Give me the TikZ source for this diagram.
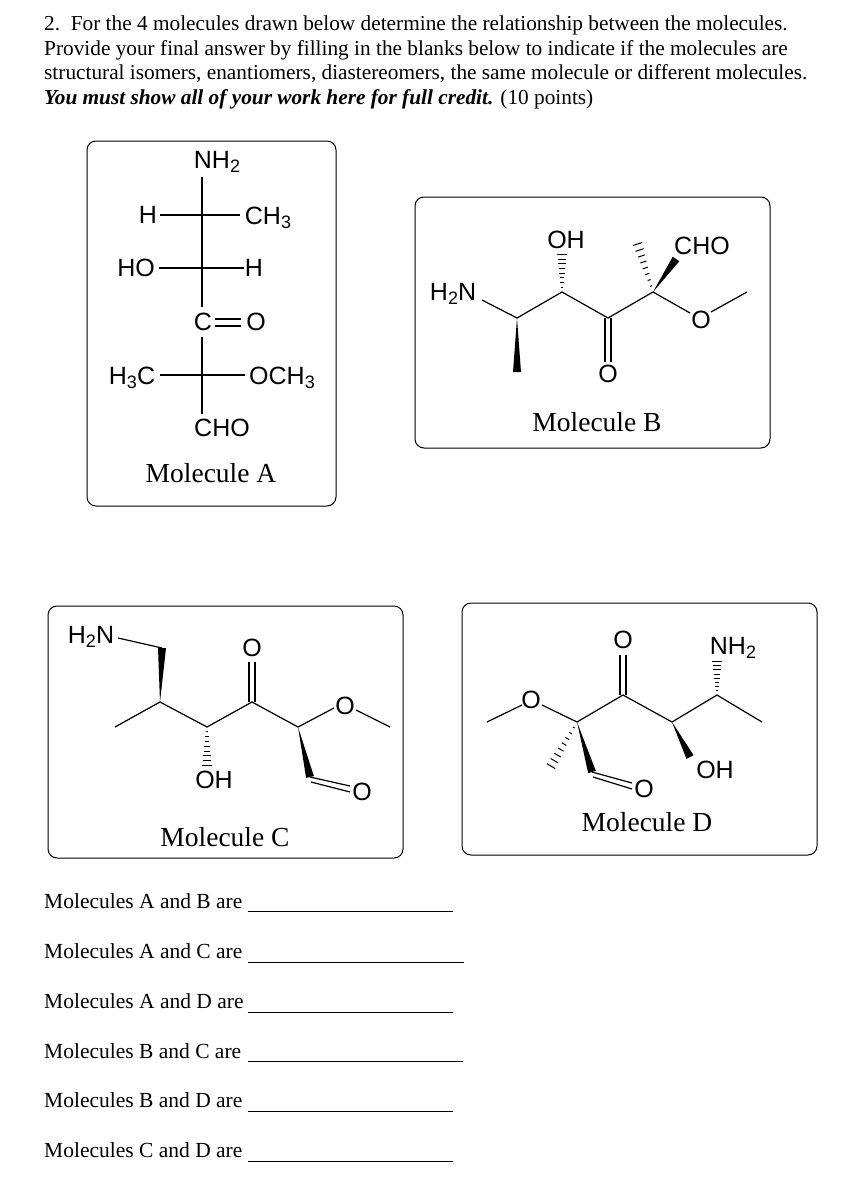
\documentclass[tikz,border=0pt]{standalone}
\usepackage{fontspec}
\setmainfont{Liberation Serif}
\newfontfamily\arial{Liberation Sans}
\usetikzlibrary{calc}
\tikzset{
  bx/.style={draw,line width=1pt,rounded corners=9pt},
  atm/.style={font=\arial\fontsize{25}{25}\selectfont,inner sep=0pt},
  caption/.style={font=\fontsize{27.5}{27.5}\selectfont,inner sep=0pt},
  txt/.style={font=\fontsize{21.3}{21.3}\selectfont,anchor=west,inner sep=0pt},
  qtxt/.style={font=\fontsize{21.5}{21.5}\selectfont,anchor=west,inner sep=0pt},
  bd/.style={line width=1.2pt},
  blank/.style={line width=0.7pt}
}
\newcommand{\sbs}[1]{\raisebox{-0.35ex}{\fontsize{18}{18}\selectfont #1}}
\newcommand{\wdg}[2]{\fill #1 -- ($#2!4pt!90:#1$) -- ($#2!4pt!-90:#1$) -- cycle;}
\newcommand{\hsh}[2]{\foreach \t in {0.12,0.24,...,1.0}{\coordinate (hp) at ($#1!\t!#2$);\pgfmathsetmacro{\w}{4.5*\t+0.5}\draw[line width=1pt] ($(hp)!\w pt!90:#2$) -- ($(hp)!\w pt!-90:#2$);}}
\begin{document}
\begin{tikzpicture}[x=1pt,y=-1pt]
\useasboundingbox (0,0) rectangle (848,1191);
\fill[white] (0,0) rectangle (848,1191);
% header
\node[txt] (h1) at (44,25) {2.\ \ For the 4 molecules drawn below determine the relationship between the molecules.};
\node[txt] (h2) at (44,50) {Provide your final answer by filling in the blanks below to indicate if the molecules are};
\node[txt] (h3) at (44,74) {structural isomers, enantiomers, diastereomers, the same molecule or different molecules.};
\node[txt] (h4) at (44,99) {\textbf{\textit{You must show all of your work here for full credit.}} (10 points)};
% boxes
\draw[bx] (87,141) rectangle (336,506);
\draw[bx] (415,197) rectangle (770,448);
\draw[bx] (48,606) rectangle (403,858);
\draw[bx] (462,603) rectangle (817,855);
% Molecule A
\node[atm] (aN) at (217,162) {NH\sbs{2}};
\node[atm] (aH1) at (148,215) {H};
\node[atm] (aM1) at (268,218) {CH\sbs{3}};
\node[atm] (aHO) at (136,268) {HO};
\node[atm] (aH2) at (254,268) {H};
\node[atm] (aC) at (203,322) {C};
\node[atm] (aO) at (256,322) {O};
\node[atm] (aM2) at (132,378) {H\sbs{3}C};
\node[atm] (aOM) at (282,378) {OCH\sbs{3}};
\node[atm] (aCHO) at (222,428) {CHO};
\node[caption] (aL) at (211,473) {Molecule A};
\draw[bd] (202,177) -- (202,307);
\draw[bd] (202,337) -- (202,414);
\draw[bd] (160,215) -- (240,215);
\draw[bd] (159,268) -- (244,268);
\draw[bd] (160,375) -- (245,375);
\draw[bd] (215,319) -- (241,319);
\draw[bd] (215,326) -- (241,326);
% Molecule B
\node[atm] (bN) at (453,294) {H\sbs{2}N};
\node[atm] (bOH) at (566,240) {OH};
\node[atm] (bCHO) at (702,246) {CHO};
\node[atm] (bO1) at (608,374) {O};
\node[atm] (bO2) at (701,320) {O};
\node[caption] (bL) at (597,422) {Molecule B};
\coordinate (b0) at (482,300);
\coordinate (b1) at (517,318);
\coordinate (b2) at (562,292);
\coordinate (b3) at (608,318);
\coordinate (b4) at (653,292);
\coordinate (b5) at (690,313);
\coordinate (b6) at (747,292);
\draw[bd] (b0) -- (b1) -- (b2) -- (b3) -- (b4) -- (b5);
\draw[bd] (711,312) -- (b6);
\draw[bd] (605,318) -- (605,362);
\draw[bd] (611,318) -- (611,362);
\wdg{(b1)}{(517,372)}
\hsh{(b2)}{(562,253)}
\hsh{(b4)}{(637,242)}
\wdg{(b4)}{(676,259)}
% Molecule C
\node[atm] (cN) at (91,637) {H\sbs{2}N};
\node[atm] (cO1) at (252,648) {O};
\node[atm] (cO2) at (345,706) {O};
\node[atm] (cOH) at (214,780) {OH};
\node[atm] (cO3) at (362,792) {O};
\node[caption] (cL) at (225,837) {Molecule C};
\coordinate (c0) at (118,638);
\coordinate (c1) at (162,648);
\coordinate (c2) at (160,702);
\coordinate (c3) at (115,727);
\coordinate (c4) at (207,727);
\coordinate (c5) at (252,702);
\coordinate (c6) at (298,727);
\coordinate (c7) at (334,708);
\coordinate (c8) at (390,727);
\coordinate (c9) at (310,777);
\draw[bd] (c0) -- (c1);
\draw[bd] (c3) -- (c2) -- (c4) -- (c5) -- (c6) -- (c7);
\draw[bd] (356,710) -- (c8);
\draw[bd] (249,702) -- (249,662);
\draw[bd] (255,702) -- (255,662);
\wdg{(c2)}{(c1)}
\hsh{(c4)}{(207,767)}
\wdg{(c6)}{(c9)}
\draw[bd] (c9) -- (350,786);
\draw[bd] (311,782) -- (350,792);
% Molecule D
\node[atm] (dO1) at (531,700) {O};
\node[atm] (dO2) at (623,640) {O};
\node[atm] (dN) at (733,648) {NH\sbs{2}};
\node[atm] (dOH) at (715,770) {OH};
\node[atm] (dO3) at (644,789) {O};
\node[caption] (dL) at (647,822) {Molecule D};
\coordinate (d0) at (487,722);
\coordinate (d1) at (577,722);
\coordinate (d2) at (623,695);
\coordinate (d3) at (672,722);
\coordinate (d4) at (717,695);
\coordinate (d5) at (762,722);
\coordinate (d6) at (592,772);
\draw[bd] (d0) -- (522,705);
\draw[bd] (542,705) -- (d1) -- (d2) -- (d3) -- (d4) -- (d5);
\draw[bd] (620,695) -- (620,655);
\draw[bd] (626,695) -- (626,655);
\hsh{(d1)}{(550,768)}
\wdg{(d1)}{(d6)}
\draw[bd] (d6) -- (632,783);
\draw[bd] (593,777) -- (632,789);
\wdg{(d3)}{(690,757)}
\hsh{(d4)}{(717,660)}
% blanks
\node[qtxt] (q1) at (44,901) {Molecules A and B are};
\node[qtxt] (q2) at (44,951) {Molecules A and C are};
\node[qtxt] (q3) at (44,1001) {Molecules A and D are};
\node[qtxt] (q4) at (44,1051) {Molecules B and C are};
\node[qtxt] (q5) at (44,1100) {Molecules B and D are};
\node[qtxt] (q6) at (44,1150) {Molecules C and D are};
\draw[blank] (248,911) -- (453,911);
\draw[blank] (248,962) -- (464,962);
\draw[blank] (248,1012) -- (453,1012);
\draw[blank] (248,1061) -- (463,1061);
\draw[blank] (248,1111) -- (453,1111);
\draw[blank] (248,1161) -- (453,1161);
\end{tikzpicture}
\end{document}
